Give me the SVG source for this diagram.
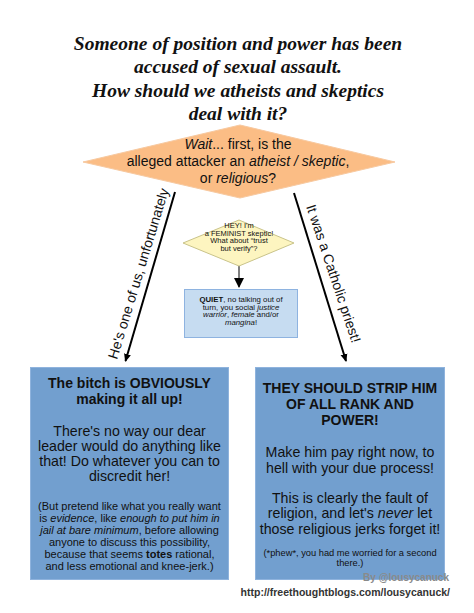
<svg xmlns="http://www.w3.org/2000/svg" width="474" height="613" viewBox="0 0 474 613">
<defs>
<marker id="ah" markerWidth="8" markerHeight="8" refX="7" refY="4" orient="auto" markerUnits="userSpaceOnUse"><path d="M0,0.5 L8,4 L0,7.5 z" fill="#000"/></marker>
<marker id="ahs" markerWidth="10" markerHeight="10" refX="9" refY="5" orient="auto" markerUnits="userSpaceOnUse"><path d="M0,0 L10,5 L0,10 z" fill="#000"/></marker>
<style>
.title{font-family:"Liberation Serif",serif;font-style:italic;font-weight:bold;font-size:19.5px;fill:#111;text-anchor:middle}
.s{font-family:"Liberation Sans",Arial,sans-serif;fill:#111;text-anchor:middle}
.i{font-style:italic}
.b{font-weight:bold}
.big{fill:#729fcf;stroke:#8fb3dd;stroke-width:1}
.conn{stroke:#000;stroke-width:2;fill:none}
</style>
</defs>
<rect width="474" height="613" fill="#fff"/>
<g id="title">
<text class="title" x="238" y="50">Someone of position and power has been</text>
<text class="title" x="238" y="73">accused of sexual assault.</text>
<text class="title" x="238" y="97">How should we atheists and skeptics</text>
<text class="title" x="238" y="120">deal with it?</text>
</g>
<g id="connectors">
<line class="conn" x1="175" y1="192" x2="125.5" y2="361" marker-end="url(#ah)"/>
<line class="conn" x1="294" y1="193" x2="346" y2="361" marker-end="url(#ah)"/>
<line x1="239" y1="266" x2="239" y2="287" stroke="#000" stroke-width="1" marker-end="url(#ahs)"/>
<text class="s" font-size="14" transform="translate(143,275) rotate(-73)">He's one of us, unfortunately</text>
<text class="s" font-size="14" transform="translate(329,275) rotate(71.5)">It was a Catholic priest!</text>
</g>
<g id="question">
<polygon points="240,125 395,162 240,198 83,162" fill="#fbbd85" stroke="#f7c9a0" stroke-width="1"/>
<text class="s" font-size="14" x="238" y="149"><tspan class="i">Wait</tspan>... first, is the</text>
<text class="s" font-size="14" x="238" y="166">alleged attacker an <tspan class="i">atheist / skeptic</tspan>,</text>
<text class="s" font-size="14" x="238" y="183">or <tspan class="i">religious</tspan>?</text>
</g>
<g id="feminist">
<polygon points="239,220 294,243 239,266 183,243" fill="#fdf5c0" stroke="#c9c38a" stroke-width="1"/>
<text class="s" font-size="7.5" x="239" y="228">HEY! I'm</text>
<text class="s" font-size="7.5" x="239" y="235.5">a FEMINIST skeptic!</text>
<text class="s" font-size="7.5" x="239" y="243">What about “trust</text>
<text class="s" font-size="7.5" x="239" y="250.5">but verify”?</text>
</g>
<g id="quiet">
<rect x="184.5" y="289.5" width="113" height="48" fill="#c6dcf1" stroke="#8eb3e0" stroke-width="1"/>
<text class="s" font-size="7.8" x="241" y="302"><tspan class="b">QUIET</tspan>, no talking out of</text>
<text class="s" font-size="7.8" x="241" y="309.5">turn, you social <tspan class="i">justice</tspan></text>
<text class="s" font-size="7.8" x="241" y="317"><tspan class="i">warrior</tspan>,  <tspan class="i">female</tspan> and/or</text>
<text class="s" font-size="7.8" x="241" y="324.5"><tspan class="i">mangina</tspan>!</text>
</g>
<g id="left-box">
<rect class="big" x="30.5" y="367.5" width="198" height="212"/>
<text class="s b" font-size="14" x="129.5" y="388">The bitch is OBVIOUSLY</text>
<text class="s b" font-size="14" x="129.5" y="404">making it all up!</text>
<text class="s" font-size="14.2" x="129.5" y="436">There's no way our dear</text>
<text class="s" font-size="14.2" x="129.5" y="451">leader would do anything like</text>
<text class="s" font-size="14.2" x="129.5" y="466">that! Do whatever you can to</text>
<text class="s" font-size="14.2" x="129.5" y="481">discredit her!</text>
<text class="s" font-size="11" x="129.5" y="510">(But pretend like what you really want</text>
<text class="s" font-size="11" x="129.5" y="522">is <tspan class="i">evidence</tspan>, like <tspan class="i">enough to put him in</tspan></text>
<text class="s" font-size="11" x="129.5" y="534"><tspan class="i">jail at bare minimum</tspan>, before allowing</text>
<text class="s" font-size="11" x="129.5" y="546">anyone to discuss this possibility,</text>
<text class="s" font-size="11" x="129.5" y="558">because that seems <tspan class="b">totes</tspan> rational,</text>
<text class="s" font-size="11" x="129.5" y="570">and less emotional and knee-jerk.)</text>
</g>
<g id="right-box">
<rect class="big" x="255.5" y="367.5" width="189" height="212"/>
<text class="s b" font-size="14" x="350" y="393">THEY SHOULD STRIP HIM</text>
<text class="s b" font-size="14" x="350" y="409">OF ALL RANK AND</text>
<text class="s b" font-size="14" x="350" y="425">POWER!</text>
<text class="s" font-size="14.2" x="350" y="457">Make him pay right now, to</text>
<text class="s" font-size="14.2" x="350" y="473">hell with your due process!</text>
<text class="s" font-size="14.2" x="350" y="503">This is clearly the fault of</text>
<text class="s" font-size="14.2" x="350" y="518">religion, and let's <tspan class="i">never</tspan> let</text>
<text class="s" font-size="14.2" x="350" y="534">those religious jerks forget it!</text>
<text class="s" font-size="9.3" x="350" y="556">(*phew*, you had me worried for a second</text>
<text class="s" font-size="9.3" x="350" y="566">there.)</text>
</g>
<g id="credits">
<text font-family="Liberation Sans,Arial,sans-serif" font-weight="bold" font-size="10" fill="#8a8a8a" x="449" y="581" text-anchor="end">By @lousycanuck</text>
<text font-family="Liberation Sans,Arial,sans-serif" font-weight="bold" font-size="10.5" fill="#333" x="450" y="596" text-anchor="end">http://freethoughtblogs.com/lousycanuck/</text>
</g>
</svg>
